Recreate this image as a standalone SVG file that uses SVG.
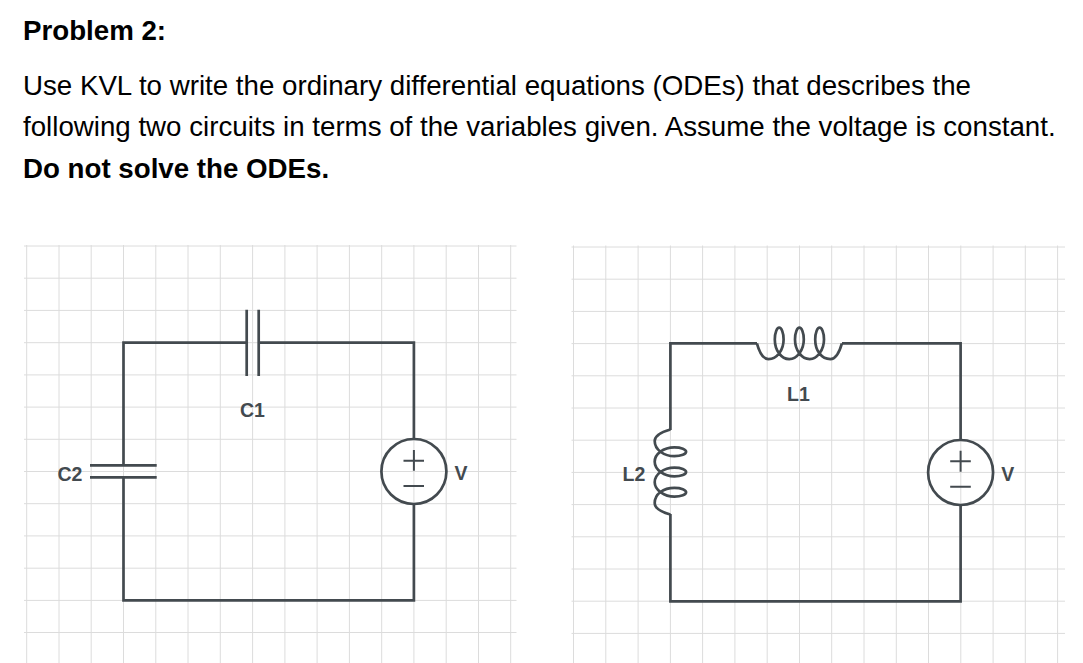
<svg xmlns="http://www.w3.org/2000/svg" width="1083" height="663" viewBox="0 0 1083 663">
<style>
.t{font-family:"Liberation Sans",Arial,sans-serif;font-size:27.7px;fill:#000}
.b{font-weight:bold}
.l{font-family:"Liberation Sans",Arial,sans-serif;font-size:19.5px;font-weight:bold;fill:#434a4f}
.g{stroke:#dcdcdc;stroke-width:1;fill:none}
.w{stroke:#434a4f;stroke-width:2.7;fill:none}
.s{stroke:#434a4f;stroke-width:2;fill:none}
</style>
<defs>
<path id="ind" d="M-42.5,0 C-40,9 -36,15.7 -31,15.7 C-22,15.7 -15.8,6 -15.8,-4 C-15.8,-11 -18,-15.7 -20.2,-15.7 C-22.4,-15.7 -24.6,-11 -24.6,-4 C-24.6,7 -18,15.7 -10.2,15.7 C-2,15.7 4.4,6 4.4,-4 C4.4,-11 2.2,-15.7 0,-15.7 C-2.2,-15.7 -4.4,-11 -4.4,-4 C-4.4,7 2.5,15.7 10.2,15.7 C18,15.7 24.6,6 24.6,-4 C24.6,-11 22.4,-15.7 20.2,-15.7 C18,-15.7 15.8,-11 15.8,-4 C15.8,7 22,15.7 31,15.7 C36,15.7 40,9 42.5,0"/>
<path id="grid1" d="M26.7,245V663M59,245V663M91.2,245V663M123.5,245V663M155.8,245V663M188,245V663M220.3,245V663M252.6,245V663M284.9,245V663M317.1,245V663M349.4,245V663M381.7,245V663M413.9,245V663M446.2,245V663M478.5,245V663M510.7,245V663M24,246H516.5M24,278.2H516.5M24,310.4H516.5M24,342.7H516.5M24,374.9H516.5M24,407.1H516.5M24,439.3H516.5M24,471.5H516.5M24,503.7H516.5M24,535.9H516.5M24,568.2H516.5M24,600.4H516.5M24,632.5H516.5"/>
<path id="grid2" d="M573.5,245.5V663M605.8,245.5V663M638.1,245.5V663M670.4,245.5V663M702.6,245.5V663M734.9,245.5V663M767.2,245.5V663M799.5,245.5V663M831.7,245.5V663M864,245.5V663M896.3,245.5V663M928.5,245.5V663M960.8,245.5V663M993.1,245.5V663M1025.3,245.5V663M1057.6,245.5V663M571.5,247H1065M571.5,279.2H1065M571.5,311.4H1065M571.5,343.6H1065M571.5,375.8H1065M571.5,408H1065M571.5,440.2H1065M571.5,472.4H1065M571.5,504.6H1065M571.5,536.8H1065M571.5,569H1065M571.5,601.2H1065M571.5,633.4H1065"/>
</defs>
<rect width="1083" height="663" fill="#fff"/>
<g id="problem-text">
<text class="t b" x="23" y="40">Problem 2:</text>
<text class="t" x="23" y="95">Use KVL to write the ordinary differential equations (ODEs) that describes the</text>
<text class="t" x="23" y="136">following two circuits in terms of the variables given. Assume the voltage is constant.</text>
<text class="t b" x="23" y="178">Do not solve the ODEs.</text>
</g>
<g id="grids">
<use href="#grid1" class="g"/>
<use href="#grid2" class="g"/>
</g>
<g id="connectors">
<path class="w" d="M246.7,342.7H123.5V465.3M123.5,477.3V600.4H413.9V504M413.9,439V342.7H258.7"/>
<path class="w" d="M757,343.4H670.4V430M670.4,514V601.4H960.6V505M960.6,440V343.4H842"/>
</g>
<g id="C1">
<path class="w" d="M246.7,309.7V376M258.7,309.7V376"/>
<text class="l" x="252.5" y="416.5" text-anchor="middle">C1</text>
</g>
<g id="C2">
<path class="w" d="M90,465.3H156.7M90,477.3H156.7"/>
<text class="l" x="70" y="480.5" text-anchor="middle">C2</text>
</g>
<g id="V1">
<circle class="w" cx="413.9" cy="471.5" r="32.5"/>
<path class="s" d="M403.5,460.7H424M413.9,450V470.7M403.5,486H424"/>
<text class="l" x="461" y="480" text-anchor="middle">V</text>
</g>
<g id="L1">
<use href="#ind" class="w" transform="translate(799.4,343.4)"/>
<text class="l" x="798.5" y="401" text-anchor="middle">L1</text>
</g>
<g id="L2">
<use href="#ind" class="w" transform="translate(670.4,472) matrix(0,1,-1,0,0,0)"/>
<text class="l" x="634" y="481" text-anchor="middle">L2</text>
</g>
<g id="V2">
<circle class="w" cx="960.6" cy="472.5" r="32.5"/>
<path class="s" d="M950.2,461.3H970.8M960.6,450.7V471.7M950.2,486.7H970.8"/>
<text class="l" x="1007.7" y="481" text-anchor="middle">V</text>
</g>
</svg>
